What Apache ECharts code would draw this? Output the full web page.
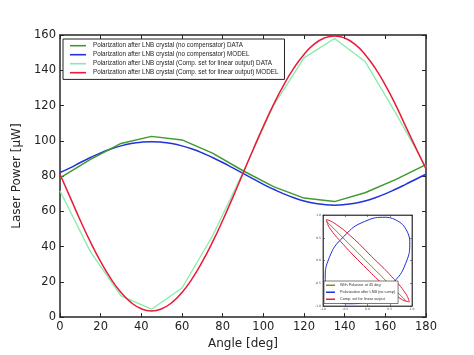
<!DOCTYPE html>
<html>
<head>
<meta charset="utf-8">
<script src="https://cdn.jsdelivr.net/npm/echarts@6/dist/echarts.min.js"></script>
<style>
html,body{margin:0;padding:0;background:#fff;}
#chart{width:474px;height:355px;}
</style>
</head>
<body>
<div id="chart"></div>
<script>
// ---- main chart data ----
const dataAngles = [0, 15, 30, 45, 60, 75, 90, 105, 120, 135, 150, 165, 180];
const modelAngles = [0,5,10,15,20,25,30,35,40,45,50,55,60,65,70,75,80,85,90,95,100,105,110,115,120,125,130,135,140,145,150,155,160,165,170,175,180];

const noCompData = [79, 89.5, 98.5, 102.5, 100.5, 93, 83, 74, 67.5, 65.5, 70.5, 78, 86.5];
const noCompModel = [82, 84.6, 87.7, 90.5, 93.1, 95.3, 97.1, 98.4, 99.2, 99.5, 99.2, 98.4, 97.1, 95.3, 93.1, 90.5, 87.7, 84.6, 81.5, 78.4, 75.3, 72.5, 69.9, 67.7, 65.9, 64.6, 63.8, 63.5, 63.8, 64.6, 65.9, 67.7, 69.9, 72.5, 75.3, 78.2, 81];
const compData = [71.5, 37, 12, 4.5, 16.5, 46, 82, 120, 147, 158, 145, 116, 85];
const compModel = [81, 67.9, 54.8, 42.5, 31.4, 21.8, 14, 8.2, 4.7, 3.5, 4.7, 8.2, 14, 21.8, 31.4, 42.5, 54.8, 67.9, 81.5, 95.1, 108.2, 120.5, 131.6, 141.2, 149, 154.8, 158.3, 159.5, 158.3, 154.8, 149, 141.2, 131.6, 120.5, 108.2, 96, 84];

const seriesNames = [
  'Polarization after LNB crystal (no compensator) DATA',
  'Polarization after LNB crystal (no compensator) MODEL',
  'Polarization after LNB crystal (Comp. set for linear output) DATA',
  'Polarization after LNB crystal (Comp. set for linear output) MODEL'
];

// ---- inset data (polarization ellipses, x/y field components) ----
const insetNames = ['With Polarizer at 45 deg', 'Polarization after LNB (no comp)', 'Comp. set for linear output'];
const polX = [-0.93, 0.88];
const polY = [0.87, -0.9];
const noCompEllX = [0.79, 0.42, -0.06, -0.53, -0.86, -0.95, -0.79, -0.42, 0.06, 0.53, 0.86, 0.95, 0.79];
const noCompEllY = [0.79, 0.95, 0.86, 0.53, 0.06, -0.42, -0.79, -0.95, -0.86, -0.53, -0.06, 0.42, 0.79];
const compEllX = [-0.92, -0.76, -0.38, 0.09, 0.55, 0.86, 0.94, 0.76, 0.38, -0.09, -0.55, -0.86, -0.92];
const compEllY = [0.9, 0.83, 0.54, 0.09, -0.36, -0.73, -0.91, -0.85, -0.55, -0.11, 0.36, 0.73, 0.9];

const xTicks = [0, 20, 40, 60, 80, 100, 120, 140, 160, 180];
const yTicks = [0, 20, 40, 60, 80, 100, 120, 140, 160];

const pairs = (xs, ys) => xs.map((x, i) => [x, ys[i]]);

const colors = ['#3f9a30', '#2430dc', '#86eca8', '#ea1a3a'];
const insetColors = ['#8c8a1e', '#2430dc', '#ea1a3a'];

const FONT = 'DejaVu Sans';
const axisCol = '#262626';

const chart = echarts.init(document.getElementById('chart'), null, {renderer: 'canvas'});

const mainAxisCommon = {
  type: 'value',
  axisLine: {show: true, onZero: false, lineStyle: {color: axisCol, width: 1.5}},
  axisTick: {show: true, inside: true, length: 4, lineStyle: {color: axisCol, width: 1}},
  splitLine: {show: false},
};
const insetAxisCommon = {
  type: 'value', min: -1, max: 1, interval: 0.5,
  axisLine: {show: true, onZero: false, lineStyle: {color: '#333', width: 0.8}},
  axisTick: {show: true, inside: true, length: 2, lineStyle: {color: '#333', width: 0.6}},
  splitLine: {show: false},
};

const option = {
  backgroundColor: '#fff',
  animation: false,
  textStyle: {fontFamily: FONT},
  grid: [
    {left: 60, right: 48, top: 35, bottom: 37},
    {left: 323, top: 215, width: 89, height: 91, show: true, backgroundColor: '#fff', borderColor: '#333', borderWidth: 0.8, z: 5}
  ],
  xAxis: [
    Object.assign({}, mainAxisCommon, {
      gridIndex: 0, position: 'bottom', min: 0, max: 180, interval: 20,
      name: 'Angle [deg]', nameLocation: 'middle', nameGap: 18,
      nameTextStyle: {fontFamily: FONT, fontSize: 12, color: '#222'},
      axisLabel: {fontFamily: FONT, fontSize: 11.5, color: '#222', margin: 4,
        formatter: v => xTicks.includes(v) ? String(v) : ''}
    }),
    Object.assign({}, mainAxisCommon, {
      gridIndex: 0, position: 'top', min: 0, max: 180, interval: 20,
      axisLabel: {show: false}
    }),
    Object.assign({}, insetAxisCommon, {
      gridIndex: 1, position: 'bottom', z: 6,
      axisLabel: {fontFamily: FONT, fontSize: 3, color: '#444', margin: 2,
        formatter: v => v.toFixed(1)}
    }),
    Object.assign({}, insetAxisCommon, {
      gridIndex: 1, position: 'top', z: 6, axisLabel: {show: false}
    })
  ],
  yAxis: [
    Object.assign({}, mainAxisCommon, {
      gridIndex: 0, position: 'left', min: 0, max: 160, interval: 20,
      name: 'Laser Power [\u03bcW]', nameLocation: 'middle', nameGap: 23,
      nameTextStyle: {fontFamily: FONT, fontSize: 12, color: '#222'},
      axisLabel: {fontFamily: FONT, fontSize: 11.5, color: '#222', margin: 4,
        formatter: v => yTicks.includes(v) ? String(v) : ''}
    }),
    Object.assign({}, mainAxisCommon, {
      gridIndex: 0, position: 'right', min: 0, max: 160, interval: 20,
      axisLabel: {show: false}
    }),
    Object.assign({}, insetAxisCommon, {
      gridIndex: 1, position: 'left', z: 6,
      axisLabel: {fontFamily: FONT, fontSize: 3, color: '#444', margin: 2,
        formatter: v => v.toFixed(1)}
    }),
    Object.assign({}, insetAxisCommon, {
      gridIndex: 1, position: 'right', z: 6, axisLabel: {show: false}
    })
  ],
  legend: [
    {
      data: seriesNames,
      orient: 'vertical', left: 63, top: 39,
      icon: 'rect', itemWidth: 16, itemHeight: 1.6, itemGap: 1.6,
      padding: [3, 6, 3, 7],
      borderColor: '#222', borderWidth: 1, backgroundColor: '#fff',
      textStyle: {fontFamily: 'Liberation Sans', fontSize: 6.3, color: '#222', padding: [0, 0, 0, 2], lineHeight: 7.4},
      selectedMode: false, z: 10
    },
    {
      data: insetNames,
      orient: 'vertical', left: 324, top: 281,
      icon: 'rect', itemWidth: 9, itemHeight: 1.5, itemGap: 2.5,
      padding: [2, 3, 2, 2],
      borderColor: '#222', borderWidth: 0.6, backgroundColor: '#fff',
      textStyle: {fontFamily: 'Liberation Sans', fontSize: 3.8, color: '#333', lineHeight: 4.5},
      selectedMode: false, z: 10
    }
  ],
  series: [
    {name: seriesNames[0], type: 'line', xAxisIndex: 0, yAxisIndex: 0, data: pairs(dataAngles, noCompData),
      symbol: 'none', lineStyle: {color: colors[0], width: 1.5}, itemStyle: {color: colors[0]}, z: 3},
    {name: seriesNames[1], type: 'line', xAxisIndex: 0, yAxisIndex: 0, data: pairs(modelAngles, noCompModel), smooth: true,
      symbol: 'none', lineStyle: {color: colors[1], width: 1.5}, itemStyle: {color: colors[1]}, z: 2},
    {name: seriesNames[2], type: 'line', xAxisIndex: 0, yAxisIndex: 0, data: pairs(dataAngles, compData),
      symbol: 'none', lineStyle: {color: colors[2], width: 1.3}, itemStyle: {color: colors[2]}, z: 2},
    {name: seriesNames[3], type: 'line', xAxisIndex: 0, yAxisIndex: 0, data: pairs(modelAngles, compModel), smooth: true,
      symbol: 'none', lineStyle: {color: colors[3], width: 1.5}, itemStyle: {color: colors[3]}, z: 3},
    {name: insetNames[0], type: 'line', xAxisIndex: 2, yAxisIndex: 2, data: pairs(polX, polY),
      symbol: 'none', lineStyle: {color: insetColors[0], width: 1}, itemStyle: {color: insetColors[0]}, z: 7},
    {name: insetNames[1], type: 'line', xAxisIndex: 2, yAxisIndex: 2, data: pairs(noCompEllX, noCompEllY), smooth: 0.5,
      symbol: 'none', lineStyle: {color: insetColors[1], width: 1}, itemStyle: {color: insetColors[1]}, z: 7},
    {name: insetNames[2], type: 'line', xAxisIndex: 2, yAxisIndex: 2, data: pairs(compEllX, compEllY), smooth: 0.5,
      symbol: 'none', lineStyle: {color: insetColors[2], width: 1}, itemStyle: {color: insetColors[2]}, z: 7}
  ]
};
chart.setOption(option);
</script>
</body>
</html>
